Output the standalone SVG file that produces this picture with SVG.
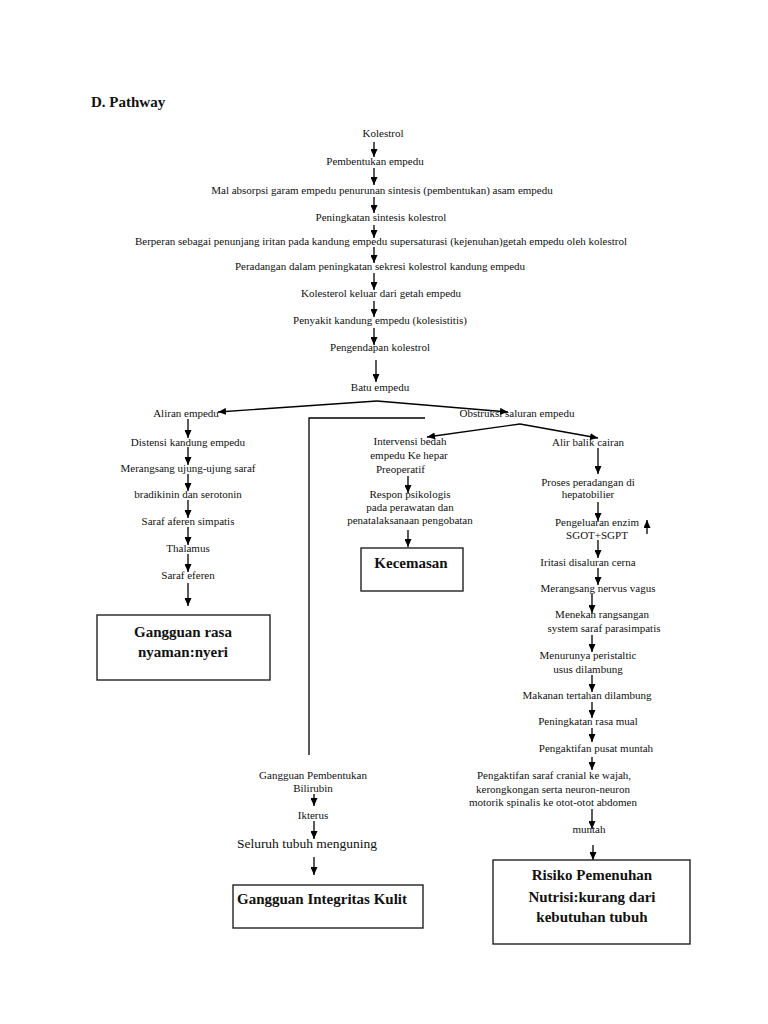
<svg xmlns="http://www.w3.org/2000/svg" width="768" height="1024" viewBox="0 0 768 1024">
<defs>
<marker id="ah" viewBox="0 0 8 7" markerWidth="8" markerHeight="7" refX="8" refY="3.5" orient="auto" markerUnits="userSpaceOnUse"><path d="M0,0 L8,3.5 L0,7 z" fill="#000"/></marker>
<style>
text{font-family:"Liberation Serif","Times New Roman",serif;fill:#111}
.t{font-size:11px;text-anchor:middle}
.b{font-size:15px;font-weight:bold;text-anchor:middle}
.box{fill:#fff;stroke:#222;stroke-width:1.4}
.c line,.c polyline{stroke:#000;stroke-width:1.3;fill:none}
.c .a{marker-end:url(#ah)}
</style>
</defs>
<rect width="768" height="1024" fill="#fff"/>
<text x="91" y="107" style="font-size:15px;font-weight:bold">D. Pathway</text>

<g id="connectors" class="c">
<line class="a" x1="374" y1="142" x2="374" y2="157"/>
<line class="a" x1="374" y1="168" x2="374" y2="185"/>
<line class="a" x1="374" y1="197" x2="374" y2="213"/>
<line class="a" x1="374" y1="225" x2="374" y2="238"/>
<line class="a" x1="374" y1="247" x2="374" y2="263"/>
<line class="a" x1="374" y1="273" x2="374" y2="290"/>
<line class="a" x1="374" y1="301" x2="374" y2="317"/>
<line class="a" x1="374" y1="328" x2="374" y2="345"/>
<line class="a" x1="376" y1="360" x2="376" y2="382"/>
<line class="a" x1="377" y1="401" x2="218" y2="412"/>
<line class="a" x1="377" y1="401" x2="508" y2="412"/>
<line class="a" x1="520" y1="424" x2="427" y2="437"/>
<line class="a" x1="520" y1="424" x2="598" y2="438"/>
<polyline points="425,418 309,418 309,755"/>
<!-- left column -->
<line class="a" x1="188" y1="419" x2="188" y2="438"/>
<line class="a" x1="188" y1="447" x2="188" y2="465"/>
<line class="a" x1="188" y1="474" x2="188" y2="491"/>
<line class="a" x1="188" y1="500" x2="188" y2="518"/>
<line class="a" x1="188" y1="527" x2="188" y2="545"/>
<line class="a" x1="188" y1="554" x2="188" y2="572"/>
<line class="a" x1="188" y1="583" x2="188" y2="606"/>
<!-- middle -->
<line class="a" x1="408" y1="476" x2="408" y2="493"/>
<line class="a" x1="408" y1="530" x2="408" y2="547"/>
<line class="a" x1="314" y1="794" x2="314" y2="806"/>
<line class="a" x1="314" y1="821" x2="314" y2="839"/>
<line class="a" x1="314" y1="857" x2="314" y2="875"/>
<!-- right column -->
<line class="a" x1="598" y1="448" x2="598" y2="474"/>
<line class="a" x1="598" y1="502" x2="598" y2="521"/>
<line class="a" x1="647" y1="534" x2="647" y2="520"/>
<line class="a" x1="598" y1="540" x2="598" y2="558"/>
<line class="a" x1="598" y1="568" x2="598" y2="585"/>
<line class="a" x1="592" y1="594" x2="592" y2="613"/>
<line class="a" x1="592" y1="635" x2="592" y2="652"/>
<line class="a" x1="592" y1="675" x2="592" y2="692"/>
<line class="a" x1="592" y1="702" x2="592" y2="718"/>
<line class="a" x1="592" y1="728" x2="592" y2="742"/>
<line class="a" x1="592" y1="757" x2="592" y2="770"/>
<line class="a" x1="592" y1="809" x2="592" y2="829"/>
<line class="a" x1="593" y1="845" x2="593" y2="860"/>
</g>

<g id="n-kolestrol"><text class="t" x="383" y="137">Kolestrol</text></g>
<g id="n-pembentukan"><text class="t" x="375" y="165">Pembentukan empedu</text></g>
<g id="n-malabsorpsi"><text class="t" x="382" y="194">Mal absorpsi garam empedu penurunan sintesis (pembentukan) asam empedu</text></g>
<g id="n-peningkatan-sintesis"><text class="t" x="381" y="221">Peningkatan sintesis kolestrol</text></g>
<g id="n-berperan"><text class="t" x="381" y="245">Berperan sebagai penunjang iritan pada kandung empedu supersaturasi (kejenuhan)getah empedu oleh kolestrol</text></g>
<g id="n-peradangan"><text class="t" x="380" y="270">Peradangan dalam peningkatan sekresi kolestrol kandung empedu</text></g>
<g id="n-kolesterol-keluar"><text class="t" x="381" y="297">Kolesterol keluar dari getah empedu</text></g>
<g id="n-penyakit"><text class="t" x="380" y="324">Penyakit kandung empedu (kolesistitis)</text></g>
<g id="n-pengendapan"><text class="t" x="380" y="351">Pengendapan kolestrol</text></g>
<g id="n-batu"><text class="t" x="380" y="391">Batu empedu</text></g>

<g id="n-aliran"><text class="t" x="186" y="417">Aliran empedu</text></g>
<g id="n-distensi"><text class="t" x="188" y="446">Distensi kandung empedu</text></g>
<g id="n-merangsang-ujung"><text class="t" x="188" y="472">Merangsang ujung-ujung saraf</text></g>
<g id="n-bradikinin"><text class="t" x="188" y="498">bradikinin dan serotonin</text></g>
<g id="n-aferen"><text class="t" x="188" y="525">Saraf aferen simpatis</text></g>
<g id="n-thalamus"><text class="t" x="188" y="552">Thalamus</text></g>
<g id="n-eferen"><text class="t" x="188" y="579">Saraf eferen</text></g>
<g id="n-nyeri"><rect class="box" x="97" y="615" width="173" height="65"/><text class="b" x="183" y="637">Gangguan rasa</text><text class="b" x="183" y="657">nyaman:nyeri</text></g>

<g id="n-obstruksi"><text class="t" x="517" y="417">Obstruksi saluran empedu</text></g>
<g id="n-intervensi"><text class="t" x="410" y="445">Intervensi bedah</text><text class="t" x="409" y="459">empedu Ke hepar</text><text x="376" y="473" style="font-size:11px">Preoperatif</text></g>
<g id="n-respon"><text class="t" x="410" y="498">Respon psikologis</text><text class="t" x="410" y="511">pada perawatan dan</text><text class="t" x="410" y="524">penatalaksanaan pengobatan</text></g>
<g id="n-kecemasan"><rect class="box" x="361" y="548" width="102" height="43"/><text class="b" x="411" y="568">Kecemasan</text></g>

<g id="n-bilirubin"><text class="t" x="313" y="779">Gangguan Pembentukan</text><text class="t" x="313" y="792">Bilirubin</text></g>
<g id="n-ikterus"><text class="t" x="313" y="819">Ikterus</text></g>
<g id="n-menguning"><text x="307" y="848" style="font-size:13.5px;text-anchor:middle">Seluruh tubuh menguning</text></g>
<g id="n-kulit"><rect class="box" x="233" y="885" width="190" height="43"/><text class="b" x="322" y="904">Gangguan Integritas Kulit</text></g>

<g id="n-alir-balik"><text class="t" x="588" y="446">Alir balik cairan</text></g>
<g id="n-proses"><text class="t" x="588" y="486">Proses peradangan di</text><text class="t" x="588" y="498">hepatobilier</text></g>
<g id="n-enzim"><text class="t" x="597" y="526">Pengeluaran enzim</text><text class="t" x="597" y="539">SGOT+SGPT</text></g>
<g id="n-iritasi"><text class="t" x="588" y="566">Iritasi disaluran cerna</text></g>
<g id="n-vagus"><text class="t" x="598" y="592">Merangsang nervus vagus</text></g>
<g id="n-menekan"><text class="t" x="602" y="618">Menekan rangsangan</text><text class="t" x="604" y="632">system saraf parasimpatis</text></g>
<g id="n-peristaltic"><text class="t" x="588" y="659">Menurunya peristaltic</text><text class="t" x="588" y="673">usus dilambung</text></g>
<g id="n-makanan"><text class="t" x="587" y="699">Makanan tertahan dilambung</text></g>
<g id="n-mual"><text class="t" x="588" y="725">Peningkatan rasa mual</text></g>
<g id="n-pusat"><text class="t" x="596" y="752">Pengaktifan pusat muntah</text></g>
<g id="n-cranial"><text class="t" x="554" y="779">Pengaktifan saraf cranial ke wajah,</text><text class="t" x="553" y="793">kerongkongan serta neuron-neuron</text><text class="t" x="553" y="806">motorik spinalis ke otot-otot abdomen</text></g>
<g id="n-muntah"><text class="t" x="589" y="833">muntah</text></g>
<g id="n-nutrisi"><rect class="box" x="493" y="860" width="197" height="84"/><text class="b" x="592" y="880">Risiko Pemenuhan</text><text class="b" x="592" y="902">Nutrisi:kurang dari</text><text class="b" x="592" y="922">kebutuhan tubuh</text></g>
</svg>
